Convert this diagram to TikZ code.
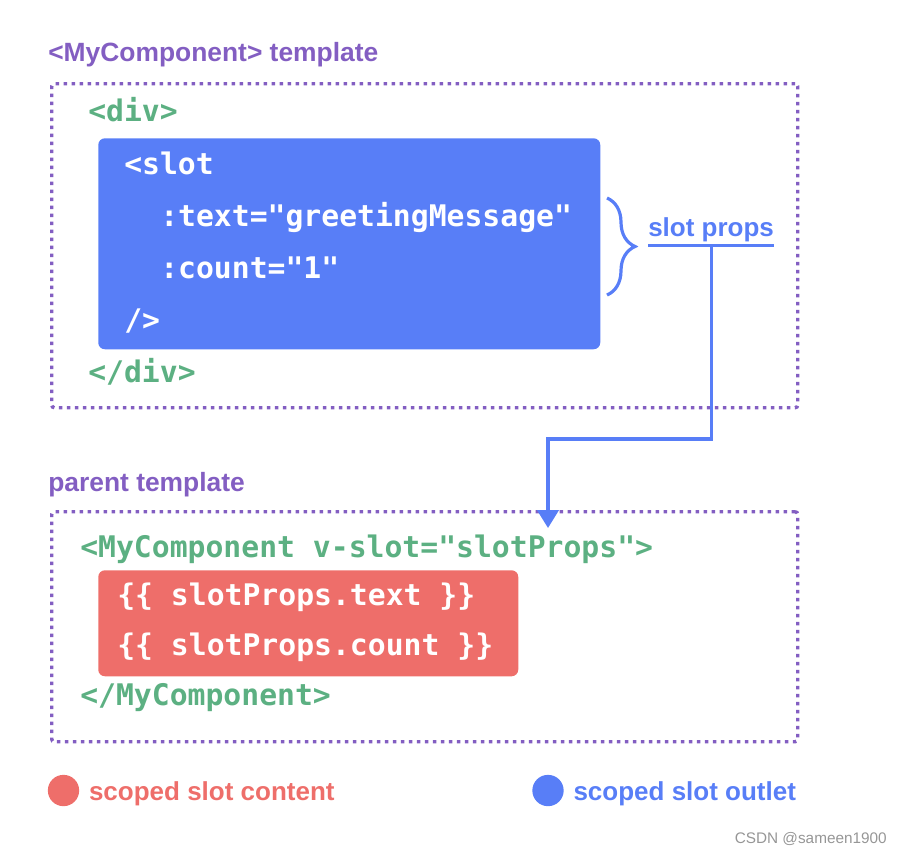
\documentclass[tikz,border=0pt]{standalone}
\usepackage{fontspec}
\setmainfont{Liberation Sans}
\setmonofont{DejaVu Sans Mono}
\usetikzlibrary{arrows.meta, positioning, decorations.pathreplacing}
\definecolor{vuepurple}{RGB}{131, 94, 194}
\definecolor{vuegreen}{RGB}{92, 176, 130}
\definecolor{slotblue}{RGB}{88, 126, 247}
\definecolor{slotred}{RGB}{238, 110, 106}
\definecolor{markgray}{RGB}{150, 150, 150}

\begin{document}
\begin{tikzpicture}[x=0.75pt, y=-0.75pt,
            title/.style={anchor=base west, inner sep=0, font=\fontsize{19.8}{23}\selectfont\bfseries, text=vuepurple},
            frame/.style={draw=vuepurple, line width=2.6pt, dash pattern=on 2.6pt off 3.4pt, rounded corners=2pt, anchor=north west, inner sep=0},
            box/.style={rounded corners=5pt, inner sep=0, anchor=north west},
            code/.style={anchor=base west, inner sep=0, font=\ttfamily\fontsize{22.3}{27}\selectfont\bfseries},
            tag/.style={code, text=vuegreen},
            slotcode/.style={code, text=white},
            flow/.style={draw=slotblue, line width=2.4pt},
            legend/.style={inner sep=0, font=\fontsize{19.5}{23}\selectfont\bfseries, yshift=-2.2pt},
            dot/.style={circle, inner sep=0, minimum size=23.5pt}
        ]
            \useasboundingbox (0,0) rectangle (902,854);

            % Component template
            \node[title] (comptitle) at (48,61) {<MyComponent> template};
            \node[frame, minimum width=559.5pt, minimum height=243pt] (compframe) at (50,82) {};
            \node[box, fill=slotblue, minimum width=376.5pt, minimum height=158.25pt] (outlet) at (98,138) {};

            \node[tag] (divopen) at (88,121) {<div>};
            \node[slotcode] (slotopen) at (124,174) {<slot};
            \node[slotcode] (slottext) at (160,226) {:text="greetingMessage"};
            \node[slotcode] (slotcount) at (160,278) {:count="1"};
            \node[slotcode] (slotclose) at (124,330) {/>};
            \node[tag] (divclose) at (88,382) {</div>};

            % Slot props
            \coordinate (bracetop) at (607,198);
            \coordinate (bracebot) at (607,295);
            \draw[flow, decorate, decoration={brace, amplitude=21pt}] (bracetop) -- (bracebot);
            \node[anchor=base west, inner xsep=0, inner ysep=3pt, font=\fontsize{19.5}{23}\selectfont\bfseries, text=slotblue] (props) at (648,236) {slot props};
            \draw[flow] (props.south west) -- (props.south east);

            % Parent template
            \node[title] (parenttitle) at (48,491) {parent template};
            \node[frame, minimum width=559.5pt, minimum height=172.5pt] (parentframe) at (50,510) {};
            \node[box, fill=slotred, minimum width=315pt, minimum height=79.5pt] (content) at (98,570) {};

            \node[tag] (compopen) at (80,557) {<MyComponent v-slot="slotProps">};
            \node[slotcode] (proptext) at (117,605) {\{\{ slotProps.text \}\}};
            \node[slotcode] (propcount) at (117,655) {\{\{ slotProps.count \}\}};
            \node[tag] (compclose) at (80,705) {</MyComponent>};

            % Arrow
            \coordinate (turn) at (0,439);
            \coordinate (tip) at (548,528);
            \draw[flow, -{Triangle[width=16pt, length=13.5pt]}] (props.south) -- (props.south |- turn) -| (tip);

            % Legend
            \node[dot, fill=slotred] (reddot) at (63.5,790.5) {};
            \node[legend, text=slotred, right=7pt of reddot] (redtext) {scoped slot content};
            \node[dot, fill=slotblue] (bluedot) at (548,790.5) {};
            \node[legend, text=slotblue, right=7pt of bluedot] (bluetext) {scoped slot outlet};

            \node[anchor=base east, inner sep=0, font=\fontsize{11.5}{13}\selectfont, text=markgray] (mark) at (887,843) {CSDN @sameen1900};

        \end{tikzpicture}
\end{document}
